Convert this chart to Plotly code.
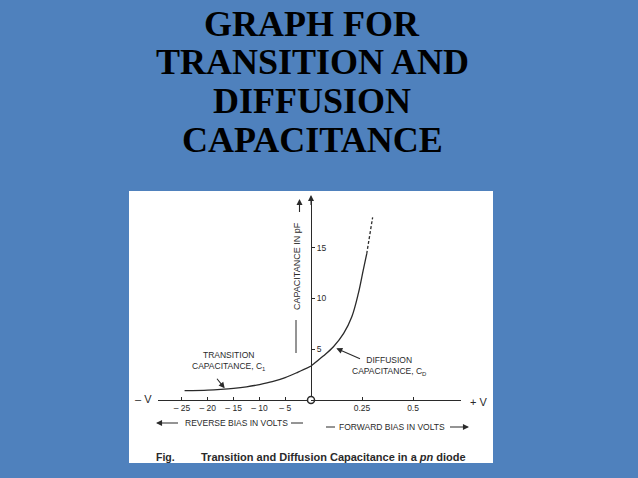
import plotly.graph_objects as go

# data (capacitance in pF)
rev_volts = [-24.5, -20, -17.5, -15, -12.5, -10, -7.5, -5, -2.5, 0]
rev_cap = [0.92, 0.98, 1.05, 1.15, 1.3, 1.52, 1.8, 2.2, 2.75, 3.35]

fwd_volts = [0, 0.06, 0.11, 0.16, 0.2, 0.232, 0.256, 0.273]
fwd_cap = [3.35, 4.33, 5.25, 6.56, 8.2, 10.5, 12.8, 14.4]

ext_volts = [0.273, 0.302]
ext_cap = [14.4, 18.0]

rev_ticks = [-25, -20, -15, -10, -5]
rev_labels = ['\u2013 25', '\u2013 20', '\u2013 15', '\u2013 10', '\u2013 5']
fwd_ticks = [0.25, 0.5]
fwd_labels = ['0.25', '0.5']
cap_ticks = [5, 10, 15]
cap_labels = ['5', '10', '15']

title_lines = ['GRAPH FOR', 'TRANSITION AND', 'DIFFUSION', 'CAPACITANCE']

W, H = 638, 478
BLUE = '#4F81BD'
INK = '#2a2a2a'
SANS = 'Liberation Sans, Arial, Helvetica'
FS = 8.5


def px(x):
    return x / W


def py(y):
    return 1 - y / H


fig = go.Figure()

fig.add_trace(go.Scatter(x=rev_volts, y=rev_cap, mode='lines', xaxis='x', yaxis='y',
                         line=dict(color=INK, width=1.3, shape='spline'), showlegend=False))
fig.add_trace(go.Scatter(x=fwd_volts, y=fwd_cap, mode='lines', xaxis='x2', yaxis='y',
                         line=dict(color=INK, width=1.3, shape='spline'), showlegend=False))
fig.add_trace(go.Scatter(x=ext_volts, y=ext_cap, mode='lines', xaxis='x2', yaxis='y',
                         line=dict(color=INK, width=1.3, dash='3px,2px'), showlegend=False))
# origin marker
fig.add_trace(go.Scatter(x=[0], y=[0], mode='markers', xaxis='x2', yaxis='y', cliponaxis=False,
                         marker=dict(symbol='circle', size=7, color='white',
                                     line=dict(color=INK, width=1.5)),
                         showlegend=False))

shapes = [
    # white picture area
    dict(type='rect', xref='paper', yref='paper', x0=px(129), x1=px(493), y0=py(463), y1=py(191),
         fillcolor='white', line=dict(width=0), layer='below'),
    # dashes next to the captions
    dict(type='line', xref='paper', yref='paper', x0=px(291), x1=px(303), y0=py(423), y1=py(423),
         line=dict(color=INK, width=1)),
    dict(type='line', xref='paper', yref='paper', x0=px(326), x1=px(335), y0=py(427), y1=py(427),
         line=dict(color=INK, width=1)),
    dict(type='line', xref='paper', yref='paper', x0=px(296), x1=px(296), y0=py(320), y1=py(353),
         line=dict(color=INK, width=1)),
]

ann = []
for i, line in enumerate(title_lines):
    ann.append(dict(text='<b>%s</b>' % line, x=px(312), y=py(24 + 38.5 * i), xref='paper', yref='paper',
                    showarrow=False, xanchor='center', yanchor='middle',
                    font=dict(family='Liberation Serif, Times New Roman, serif', size=36, color='black')))


def label(text, x, y, size=FS, **kw):
    d = dict(text=text, x=px(x), y=py(y), xref='paper', yref='paper', showarrow=False,
             xanchor='center', yanchor='middle', font=dict(family=SANS, size=size, color=INK))
    d.update(kw)
    ann.append(d)


def arrow(x_head, y_head, x_tail, y_tail):
    ann.append(dict(text=' ', x=px(x_head), y=py(y_head), xref='paper', yref='paper',
                    ax=x_tail - x_head, ay=y_tail - y_head, showarrow=True,
                    arrowhead=2, arrowsize=1.1, arrowwidth=1.1, arrowcolor=INK))


label('\u2013 V', 143, 399, size=11)
label('+ V', 478, 402, size=11)
label('CAPACITANCE IN pF', 297, 266, size=9, textangle=-90)
arrow(299.5, 199, 299.5, 222)
arrow(311, 195, 311, 215)
label('TRANSITION<br>CAPACITANCE, C<sub>1</sub>', 229, 361)
arrow(224.7, 388.3, 214, 375)
label('DIFFUSION<br>CAPACITANCE, C<sub>D</sub>', 389, 366)
arrow(336.3, 348.3, 363, 360)
label('REVERSE BIAS IN VOLTS', 236, 423)
arrow(156, 423, 181, 423)
label('FORWARD BIAS IN VOLTS', 392, 427)
arrow(469, 427, 447, 427)
label('<b>Fig.</b>', 165, 457, font=dict(family=SANS, size=10.5, color=INK))
label('<b>Transition and Diffusion Capacitance in a <i>pn</i> diode</b>', 333, 457,
      font=dict(family=SANS, size=11, color=INK))

axis_common = dict(showgrid=False, zeroline=False, showline=True, linecolor=INK, linewidth=1.2,
                   ticks='inside', ticklen=3, tickcolor=INK, tickwidth=1,
                   tickfont=dict(family=SANS, size=FS, color=INK), fixedrange=True)

fig.update_layout(
    width=W, height=H,
    margin=dict(l=0, r=0, t=0, b=0),
    paper_bgcolor=BLUE, plot_bgcolor='rgba(0,0,0,0)',
    xaxis=dict(domain=[px(158), px(311)], range=[-29.65, 0], anchor='y',
               tickvals=rev_ticks, ticktext=rev_labels, **axis_common),
    xaxis2=dict(domain=[px(311), px(461)], range=[0, 0.735], anchor='y',
                tickvals=fwd_ticks, ticktext=fwd_labels, **axis_common),
    yaxis=dict(domain=[py(400), py(197)], range=[0, 20], anchor='free', position=px(311),
               side='right', tickvals=cap_ticks, ticktext=cap_labels,
               **{**axis_common, 'ticks': 'outside'}),
    shapes=shapes,
    annotations=ann,
)

fig.write_html('out.html', config={'displayModeBar': False},
               post_script="document.body.style.margin='0';document.body.style.overflow='hidden';")
